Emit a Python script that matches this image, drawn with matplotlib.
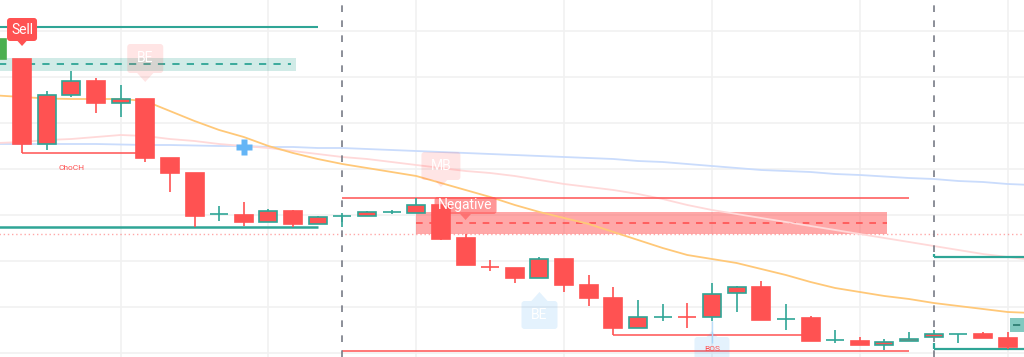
import numpy as np
import matplotlib
matplotlib.use("Agg")
import matplotlib.pyplot as plt
from matplotlib.patches import Rectangle, FancyBboxPatch, Polygon

# ─── Data (price units, bar index 0..41) ──────────────────────────────────────

OPEN  = [298, 298, 213, 262, 276, 254, 258, 199, 184, 143, 142, 135, 146, 133, 141, 141.3,
         145, 144.3, 152, 118.7, 90.5, 89, 79.3, 98, 72, 59.3, 29.3, 40.3, 40.5, 39.7, 63.7,
         70.3, 38, 38.7, 16.7, 16.3, 11.7, 15.7, 20, 22.7, 22.7, 19.3]
HIGH  = [320, 298, 266, 286, 279, 272, 258, 199, 184, 151, 155, 148, 147, 141, 144, 146,
         147.3, 158.7, 152, 122.7, 97, 89, 99.7, 98, 81.7, 70.3, 56.7, 52.7, 53.7, 73.7, 71,
         76, 52.7, 41.3, 26.7, 19.7, 18.3, 24.7, 26.7, 22.7, 24.7, 25]
LOW   = [295, 204, 207, 260, 244, 240, 195, 165, 130, 136, 131, 135, 130, 133, 130, 141.3,
         142.7, 144.3, 117, 91.7, 86, 74.3, 79.3, 65.3, 51, 22, 29, 36.3, 29.3, 36.3, 45.3,
         37, 27, 16, 13.7, 11.7, 6.7, 15.7, 20, 13.7, 19.3, 8]
CLOSE = [318, 213, 262, 276, 254, 258, 199, 184, 141, 143, 135, 146, 133, 140, 141, 145,
         145, 152.3, 118.3, 91.7, 90, 79.3, 98, 72.3, 59.3, 29.3, 40, 40.3, 40, 63.3, 70.3,
         37, 38, 16, 16.7, 11.7, 15.3, 18.3, 22.7, 22.7, 19.3, 10.3]

# moving averages, one value per bar (plus one beyond the last bar)
MA_FAST = [261.5, 260, 258.5, 258, 258, 258, 256, 246, 236, 227, 220, 211, 204, 198, 193,
           189, 185, 181, 174, 167, 160, 152, 145, 139, 133, 125, 117, 109, 102, 98, 94, 88,
           82, 75, 69, 65, 61, 58, 54, 51, 48, 45, 44]
MA_MID  = [214, 215, 217, 218, 220, 222, 221, 218, 216, 213, 211, 209, 206, 203, 200, 198,
           195, 192, 189, 186, 184, 181, 177, 173, 170, 167, 163, 158, 152, 147, 143, 139,
           135, 131, 127, 123, 119, 115, 111, 107, 103, 100, 97]
MA_SLOW = [213, 213, 213, 213, 213, 212.5, 212, 212, 211.5, 211, 211, 210, 210, 209, 209,
           208, 207, 206, 205, 204, 203, 202, 201, 200, 199, 198, 196, 195, 193, 191, 189,
           187, 186, 185, 183, 182, 180.5, 179, 178, 176, 175, 173, 172]

SELL_BAR = 1
SESSION_BARS = [14, 38]

TEAL_TOP = 330
SELL_ZONE = (286, 299)
SELL_ENTRY = 293
TEAL_LOW = 130
RED_TOP = 159
RED_BOTTOM = 6
RED_ZONE = (123, 145)
RED_ENTRY = 134
NEXT_HIGH = 100
NEXT_LOW = 8
NEXT_ZONE = (25, 39)
NEXT_ENTRY = 32
CHOCH_LEVEL = 204
BOS_LEVEL = 22
CROSS_POINT = (10, 210)

# ─── Style ────────────────────────────────────────────────────────────────────

RED = "#FF5252"
TEAL = "#2FA596"
GREEN = "#4CAF50"
BLUE = "#2196F3"
PX = 24.64          # pixels per bar
BW = 18 / PX        # candle body width

plt.rcParams["font.family"] = ["Roboto", "DejaVu Sans"]

fig = plt.figure(figsize=(10.24, 3.57), dpi=100)
ax = fig.add_axes([0, 0, 1, 1])
ax.set_xlim(2.6 / PX, (1024 + 2.6) / PX)
ax.set_ylim(0, 357)
ax.set_xticks(range(5, 42, 6))
ax.set_yticks(np.arange(4, 357, 46))
ax.set_axisbelow(True)
ax.grid(color="#f1f1f1", lw=1.2)
ax.tick_params(length=0, labelleft=False, labelbottom=False)
for s in ax.spines.values():
    s.set_visible(False)

x0, x1 = -2, 43


def tag(x, tip, text, fc, alpha, w, h, th, down=True, tc="white", fs=9.5):
    wx = w / PX
    tw = th * 1.8 / PX
    if down:
        yb = tip + th
        tri = [(x - tw / 2, yb), (x + tw / 2, yb), (x, tip)]
    else:
        yb = tip - th - h
        tri = [(x - tw / 2, yb + h), (x + tw / 2, yb + h), (x, tip)]
    ax.add_patch(FancyBboxPatch((x - wx / 2, yb), wx, h,
                                boxstyle=f"round,pad=0,rounding_size={3 / PX}",
                                mutation_aspect=PX, fc=fc, ec="none", alpha=alpha, zorder=6))
    ax.add_patch(Polygon(tri, closed=True, fc=fc, ec="none", alpha=alpha, zorder=6))
    ax.text(x, yb + h / 2, text, color=tc, fontsize=fs, ha="center", va="center",
            zorder=7)


# zones
ax.add_patch(Rectangle((x0, SELL_ZONE[0]), 12.1 - x0, SELL_ZONE[1] - SELL_ZONE[0],
                       fc=TEAL, alpha=0.22, ec="none", zorder=1))
ax.hlines(SELL_ENTRY, x0, 11.9, color=TEAL, lw=1.3, ls=(0, (4, 4)), zorder=2)
ax.add_patch(Rectangle((17, RED_ZONE[0]), 36.1 - 17, RED_ZONE[1] - RED_ZONE[0],
                       fc=RED, alpha=0.5, ec="none", zorder=1))
ax.hlines(RED_ENTRY, 17, 36.1, color=RED, lw=1.2, ls=(0, (4, 4)), zorder=2)
ax.add_patch(Rectangle((41.1, NEXT_ZONE[0]), x1 - 41.1, NEXT_ZONE[1] - NEXT_ZONE[0],
                       fc=TEAL, alpha=0.6, ec="none", zorder=1))
ax.hlines(NEXT_ENTRY, 41.2, x1, color="#2f7f74", lw=1.3, ls=(0, (4, 4)), zorder=2)

# moving averages
bars_ma = np.arange(len(MA_FAST))
ax.plot(bars_ma, MA_SLOW, color="#CADCFC", lw=1.3, zorder=2)
ax.plot(bars_ma, MA_MID, color="#FFD9D9", lw=1.3, zorder=2)
ax.plot(bars_ma, MA_FAST, color="#FFC878", lw=1.3, zorder=2)

# levels
ax.hlines(RED_ZONE[0], x0, x1, color=RED, alpha=0.5, lw=1, ls=(0, (1, 2)), zorder=1)
ax.hlines(TEAL_TOP, x0, 13, color=TEAL, lw=1.5, zorder=2)
ax.hlines(TEAL_LOW, x0, 13, color=TEAL, lw=1.8, zorder=2)
ax.hlines([RED_TOP, RED_BOTTOM], 14, 37, color=RED, lw=1.1, zorder=2)
ax.hlines([NEXT_HIGH, NEXT_LOW], 38, x1, color=TEAL, lw=1.6, zorder=2)
ax.vlines(38, NEXT_HIGH, NEXT_HIGH + 3, color=TEAL, lw=1.6, zorder=2)
ax.vlines(38, NEXT_LOW, NEXT_LOW + 6, color=TEAL, lw=1.6, zorder=2)
ax.hlines(CHOCH_LEVEL, SELL_BAR, 6, color=RED, lw=1.1, zorder=2)
ax.text(3.0, CHOCH_LEVEL - 15, "ChoCH", color=RED, fontsize=6, ha="center", va="center")
ax.hlines(BOS_LEVEL, 25, 33, color=RED, lw=1.1, zorder=2)
ax.vlines(29, 14, LOW[29], color="#BBDEFB", lw=1, zorder=2)
for b in SESSION_BARS:
    ax.axvline(b, color="#787B86", lw=1.2, ls=(0, (4, 5)), zorder=2)

# candles
for i, (o, h, l, c) in enumerate(zip(OPEN, HIGH, LOW, CLOSE)):
    edge = TEAL if c >= o else RED
    fill = RED
    if i < SELL_BAR:
        edge = fill = GREEN
    ax.vlines(i, l, h, color=edge, lw=1.2, zorder=3)
    ax.add_patch(Rectangle((i - BW / 2, min(o, c)), BW, abs(c - o),
                           fc=fill, ec=edge, lw=1.2, zorder=4))

ax.plot(*CROSS_POINT, marker="P", ms=11, color="#64B5F6", mec="none", zorder=5)

# labels
tag(SELL_BAR, HIGH[SELL_BAR] + 13, "Sell", RED, 1.0, 30, 23, 5, fs=10)
tag(6, HIGH[4] - 4, "BE", RED, 0.15, 36, 29, 9, fs=10)
tag(18, 170, "MB", RED, 0.15, 39, 28, 7, fs=10)
tag(19, 137, "Negative", RED, 0.6, 62, 17, 6, fs=10)
tag(22, 65, "BE", BLUE, 0.12, 36, 28, 9, down=False, fs=10)
tag(29, 26, "", BLUE, 0.12, 35, 22, 6, down=False)
ax.text(29, 8, "BOS", color=RED, fontsize=6, ha="center", va="center", zorder=7)

fig.savefig("out.png", dpi=100)
